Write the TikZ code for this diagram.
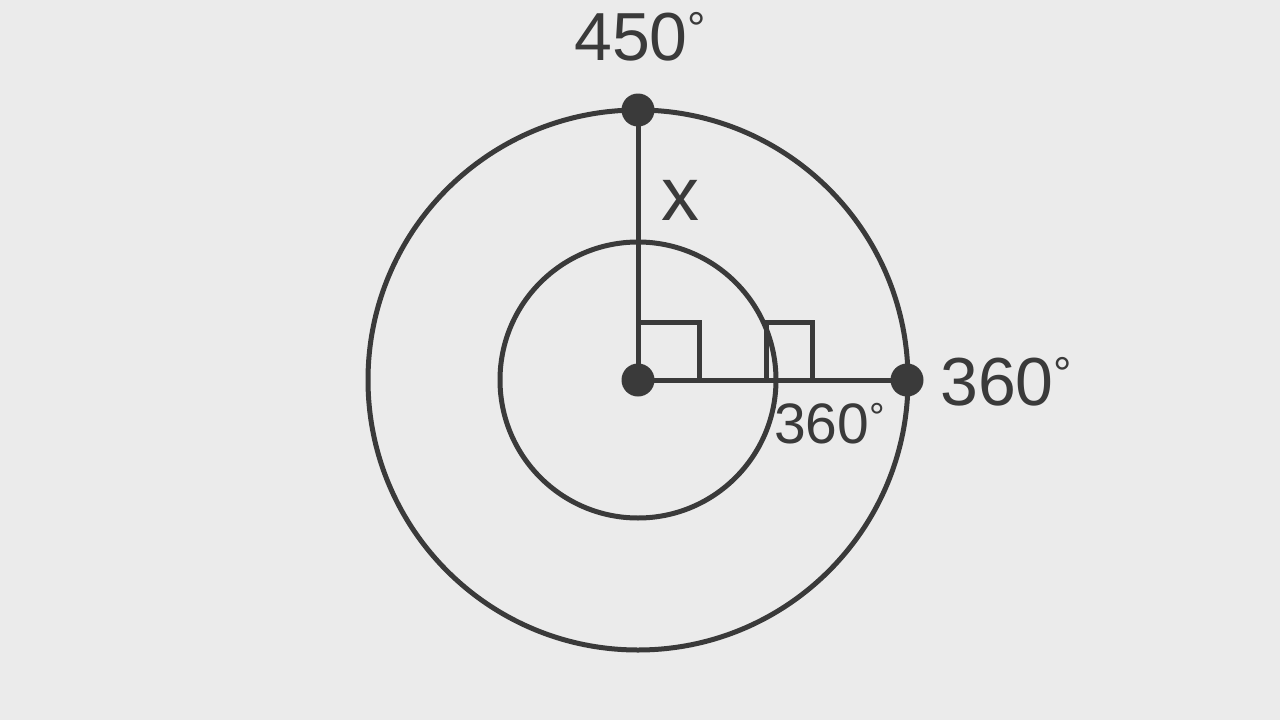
\documentclass[tikz,border=0pt]{standalone}
\usepackage{fontspec}
\setmainfont{Liberation Sans}
\definecolor{bg}{HTML}{EBEBEB}
\definecolor{ink}{HTML}{3A3A3A}
\newcommand{\degsign}[2]{\raisebox{#2pt}{\fontsize{#1}{#1}\selectfont °}}
\begin{document}
\begin{tikzpicture}[x=1pt,y=-1pt,
  line/.style={draw=ink,line width=5pt},
  dot/.style={circle,fill=ink,inner sep=0pt,minimum size=33pt},
  lbl/.style={text=ink,inner sep=0pt,anchor=base west}]
\fill[bg] (0,0) rectangle (1280,720);
\useasboundingbox (0,0) rectangle (1280,720);
\coordinate (O) at (638,380);
\draw[line] (O) circle[radius=270];
\draw[line] (O) circle[radius=138];
\node[dot] (c) at (638,380) {};
\node[dot] (t) at (638,110) {};
\node[dot] (r) at (907,380) {};
\draw[line] (c.center) -- (t.center);
\draw[line] (c.center) -- (r.center);
\draw[line] (640,322) -- (699,322) -- (699,380);
\draw[line] (766,380) -- (766,322) -- (812,322) -- (812,380);
\node[lbl,font=\fontsize{68}{68}\selectfont] (l450) at (574,60) {450\degsign{46}{16}};
\node[lbl,font=\fontsize{68}{68}\selectfont] (l360) at (940,405) {360\degsign{46}{16}};
\node[lbl,font=\fontsize{57}{57}\selectfont] (s360) at (774,443) {360\degsign{39}{13}};
\node[lbl,font=\fontsize{76}{76}\selectfont] (lx) at (661,220) {x};
\end{tikzpicture}
\end{document}
